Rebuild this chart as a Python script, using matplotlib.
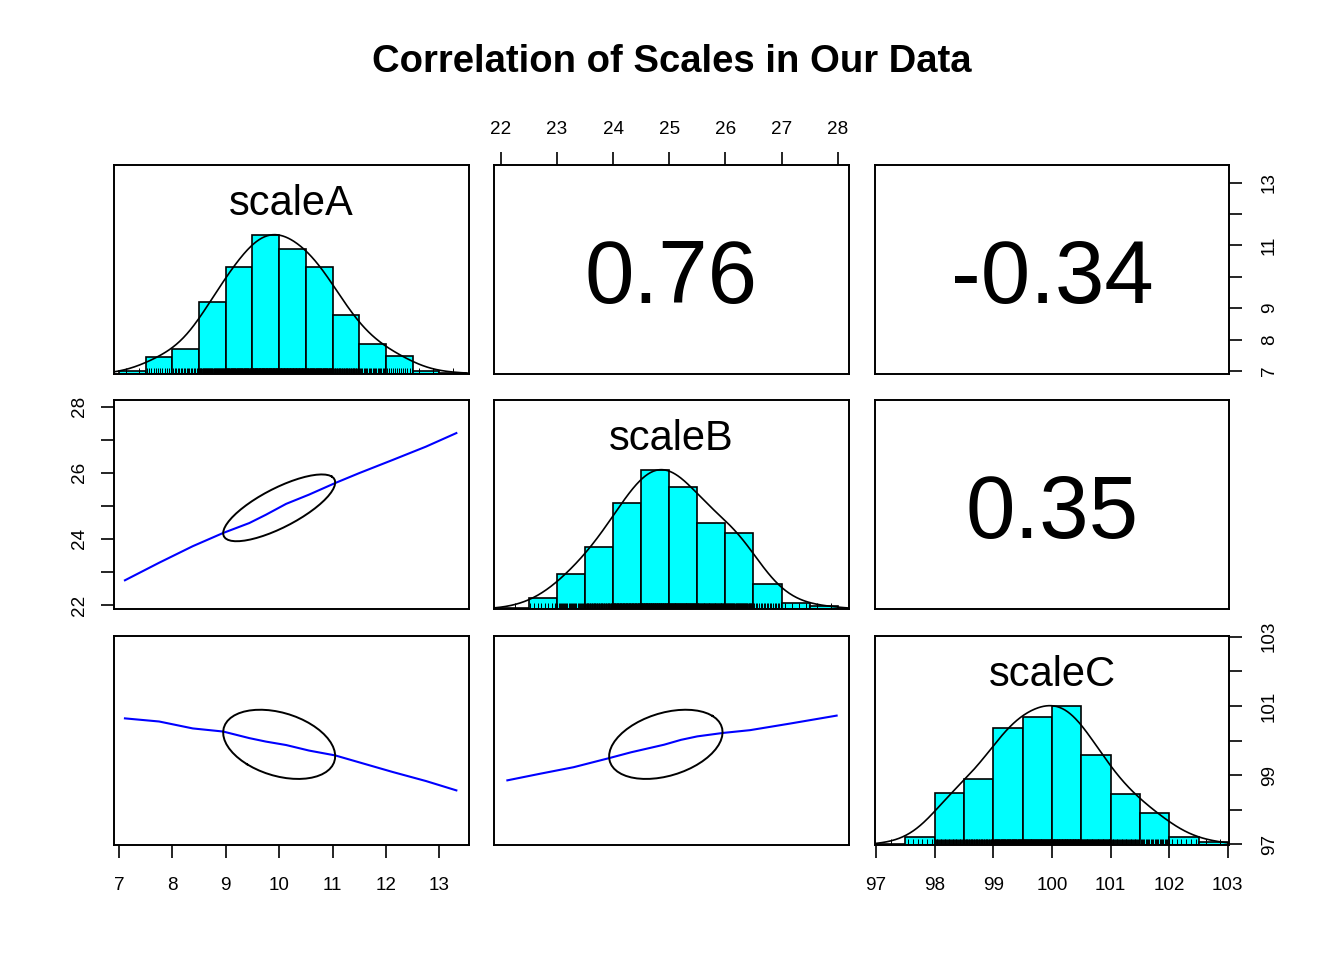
import numpy as np
import matplotlib
matplotlib.use('Agg')
import matplotlib.pyplot as plt

plt.rcParams['font.family'] = ['Liberation Sans', 'DejaVu Sans']

# variable names on the diagonal
scales = ['scaleA', 'scaleB', 'scaleC']

# histogram counts, bins of width 0.5 starting at these values
bin_start = [7.0, 22.0, 97.0]
bin_width = 0.5
counts_a = [2, 12, 18, 51, 76, 99, 89, 76, 42, 21, 13, 2, 1]
counts_b = [1, 8, 25, 44, 75, 99, 87, 61, 54, 18, 4, 2]
counts_c = [1, 6, 37, 47, 83, 91, 99, 64, 36, 23, 6, 2]

# correlations (upper panels)
r_ab, r_ac, r_bc = 0.76, -0.34, 0.35

# means / sds used for the correlation ellipses
means = [10.0, 24.94, 99.89]
sds = [1.05, 1.01, 1.0]

# loess fits
loess_a = [7.11, 7.75, 8.38, 8.95, 9.44, 9.75, 10.13, 10.56, 11.05, 11.50, 12.13, 12.75, 13.32]
loess_ab = [22.75, 23.28, 23.78, 24.18, 24.48, 24.73, 25.06, 25.34, 25.69, 25.99, 26.39, 26.79, 27.20]
loess_ac = [100.64, 100.55, 100.35, 100.26, 100.07, 99.97, 99.87, 99.71, 99.57, 99.37, 99.09, 98.83, 98.56]
loess_b = [22.12, 22.70, 23.30, 23.95, 24.32, 24.91, 25.21, 25.50, 25.96, 26.44, 27.15, 27.98]
loess_bc = [98.85, 99.04, 99.23, 99.50, 99.66, 99.88, 100.02, 100.12, 100.22, 100.30, 100.49, 100.72]

# axis ranges and tick labels
lims = [(6.905, 13.557), (21.882, 28.20), (96.982, 103.02)]
ticks_a = [7, 8, 9, 10, 11, 12, 13]
ticks_b = [22, 23, 24, 25, 26, 27, 28]
ticks_c = [97, 98, 99, 100, 101, 102, 103]
labels_a_right = ['7', '8', '9', '', '11', '', '13']
labels_b_left = ['22', '', '24', '', '26', '', '28']
labels_c_right = ['97', '', '99', '', '101', '', '103']

counts = [counts_a, counts_b, counts_c]

fig = plt.figure(figsize=(13.44, 9.6), dpi=100)
lefts = [114, 494, 875]
widths = [355, 355, 354]
tops = [165, 400, 636]
H = 209
axes = [[None] * 3 for _ in range(3)]
for i in range(3):
    for j in range(3):
        ax = fig.add_axes([lefts[j] / 1344, 1 - (tops[i] + H) / 960, widths[j] / 1344, H / 960])
        ax.set_xlim(lims[j])
        ax.set_ylim(lims[i])
        ax.set_xticks([])
        ax.set_yticks([])
        for s in ax.spines.values():
            s.set_linewidth(1.4)
        axes[i][j] = ax

# histogram panels
for k in range(3):
    ax = axes[k][k]
    lo, hi = lims[k]
    c = np.array(counts[k], dtype=float)
    edges = bin_start[k] + bin_width * np.arange(len(c) + 1)
    sy = lambda v: lo + np.asarray(v) / 1.5 * (hi - lo)
    ax.bar(edges[:-1], sy(c / c.max()) - lo, width=bin_width, bottom=lo, align='edge',
           color='cyan', edgecolor='black', linewidth=1.2, zorder=2)
    # rug from counts, spread inside each bin
    rug = np.concatenate([edges[b] + (np.arange(n) + 0.5) / n * bin_width
                          for b, n in enumerate(counts[k]) if n > 0])
    ax.vlines(rug, lo, lo + 0.03 * (hi - lo), color='black', linewidth=0.7, zorder=3)
    # density curve (R density, bw = nrd, adjust = 1.2)
    iqr = np.subtract(*np.percentile(rug, [75, 25]))
    bw = 1.2 * 1.06 * min(rug.std(ddof=1), iqr / 1.34) * len(rug) ** -0.2
    gx = np.linspace(lo, hi, 400)
    d = np.exp(-0.5 * ((gx[:, None] - rug[None, :]) / bw) ** 2).sum(axis=1)
    ax.plot(gx, sy(d / d.max()), color='black', linewidth=1.2, zorder=4)
    ax.text(0.5, 0.761, scales[k], transform=ax.transAxes, ha='center', va='baseline', fontsize=30)

# correlation panels
for (i, j), r in [((0, 1), r_ab), ((0, 2), r_ac), ((1, 2), r_bc)]:
    axes[i][j].text(0.5, 0.34, '%.2f' % r, transform=axes[i][j].transAxes,
                    ha='center', va='baseline', fontsize=64)


def draw_ellipse(ax, xm, ym, xs, ys, r, segments=51):
    ang = np.linspace(0, 2 * np.pi, segments + 1)
    th = np.sign(r) / np.sqrt(2)
    shape = np.diag([np.sqrt(1 + r), np.sqrt(1 - r)]) @ np.array([[th, th], [-th, th]])
    e = np.column_stack([np.cos(ang), np.sin(ang)]) @ shape
    ax.plot(e[:, 0] * xs + xm, e[:, 1] * ys + ym, color='black', linewidth=1.4)


# lower panels: loess + ellipse
axes[1][0].plot(loess_a, loess_ab, color='blue', linewidth=1.5)
draw_ellipse(axes[1][0], means[0], means[1], sds[0], sds[1], r_ab)
axes[2][0].plot(loess_a, loess_ac, color='blue', linewidth=1.5)
draw_ellipse(axes[2][0], means[0], means[2], sds[0], sds[2], r_ac)
axes[2][1].plot(loess_b, loess_bc, color='blue', linewidth=1.5)
draw_ellipse(axes[2][1], means[1], means[2], sds[1], sds[2], r_bc)

tick_kw = dict(direction='out', length=9.4, width=1.2, labelsize=13.6)

ax = axes[0][1]
ax.xaxis.tick_top()
ax.set_xticks(ticks_b)
ax.set_xticklabels([str(t) for t in ticks_b])
ax.tick_params(axis='x', pad=10, **tick_kw)

ax = axes[0][2]
ax.yaxis.tick_right()
ax.set_yticks(ticks_a)
ax.set_yticklabels(labels_a_right, rotation=90, va='center')
ax.tick_params(axis='y', pad=13.5, **tick_kw)

ax = axes[1][0]
ax.set_yticks(ticks_b)
ax.set_yticklabels(labels_b_left, rotation=90, va='center')
ax.tick_params(axis='y', pad=9.5, **tick_kw)

ax = axes[2][0]
ax.set_xticks(ticks_a)
ax.set_xticklabels([str(t) for t in ticks_a])
ax.tick_params(axis='x', pad=14, **tick_kw)

ax = axes[2][2]
ax.set_xticks(ticks_c)
ax.set_xticklabels([str(t) for t in ticks_c])
ax.tick_params(axis='x', pad=14, **tick_kw)
ax.yaxis.tick_right()
ax.set_yticks(ticks_c)
ax.set_yticklabels(labels_c_right, rotation=90, va='center')
ax.tick_params(axis='y', pad=13.5, **tick_kw)

fig.text(0.5, 1 - 72 / 960, 'Correlation of Scales in Our Data', ha='center', va='baseline',
         fontsize=27.5, fontweight='bold')

fig.savefig('out.png', dpi=100)
